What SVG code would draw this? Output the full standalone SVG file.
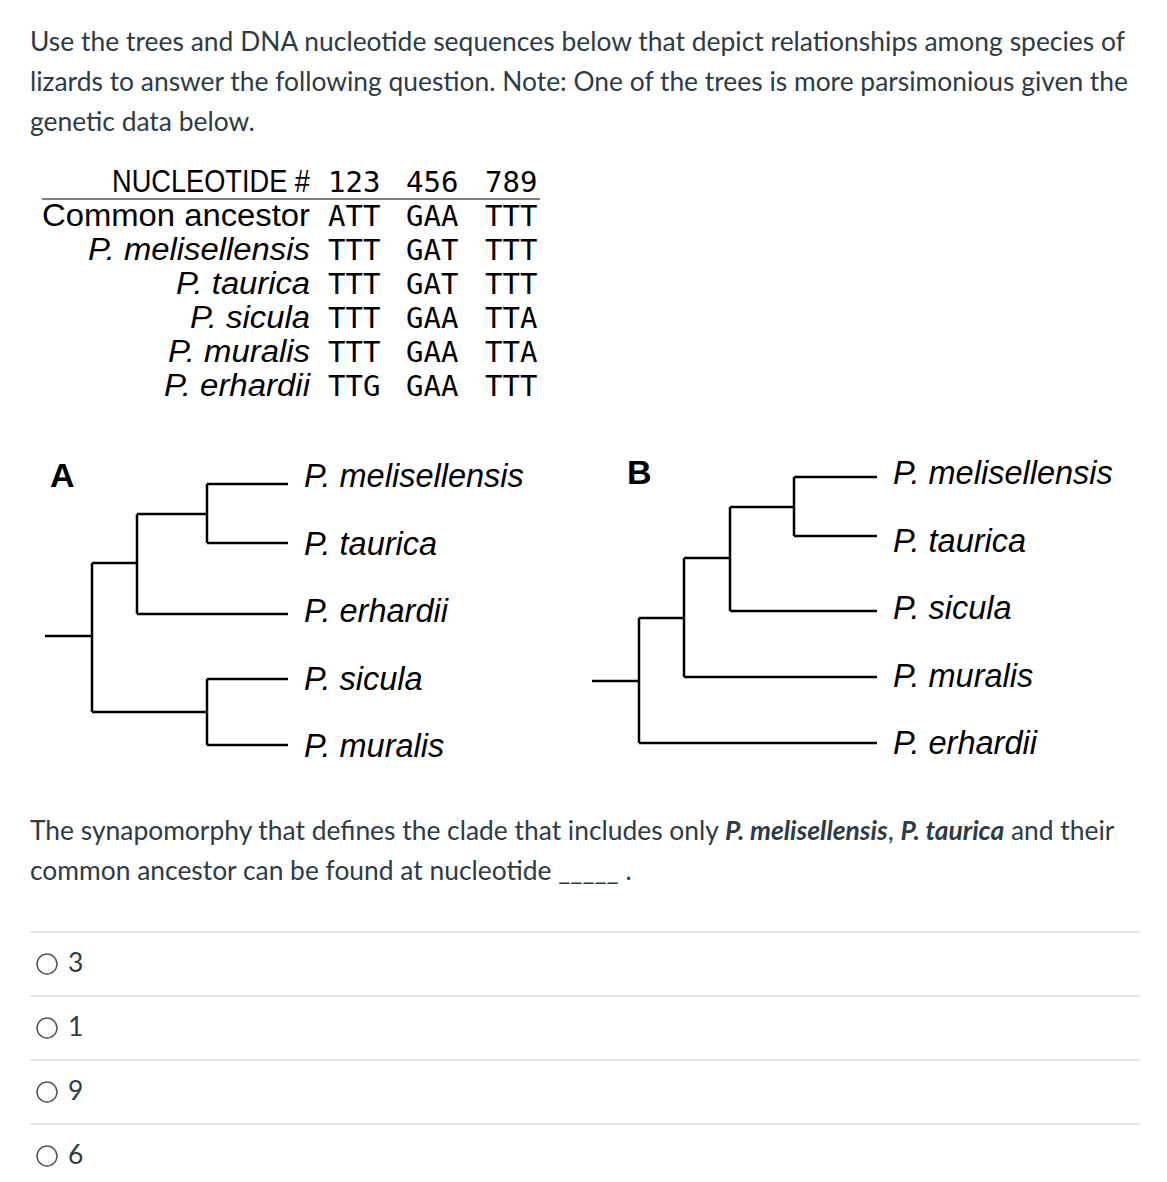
<svg xmlns="http://www.w3.org/2000/svg" width="1167" height="1182" viewBox="0 0 1167 1182">
<style>
.q{font-family:Lato,"Open Sans",sans-serif;font-size:26.4px;fill:#2d3b45}
.ar{font-family:"Liberation Sans",Arial,sans-serif;font-size:31px;fill:#000;text-anchor:end}
.sp{font-family:"Liberation Sans",Arial,sans-serif;font-size:31px;font-style:italic;fill:#000;text-anchor:end}
.lf{font-family:"Liberation Sans",Arial,sans-serif;font-size:32.5px;font-style:italic;fill:#000}
.mono{font-family:"DejaVu Sans Mono","Liberation Mono",monospace;font-size:29px;fill:#000}
.br{stroke:#000;stroke-width:2.5;fill:none}
.sep{stroke:#ddd;stroke-width:1.5}
.rb{fill:#fff;stroke:#555;stroke-width:1.5}
</style>
<rect width="1167" height="1182" fill="#fff"/>
<g id="question">
<text class="q" x="30" y="51" textLength="1095">Use the trees and DNA nucleotide sequences below that depict relationships among species of</text>
<text class="q" x="30" y="91" textLength="1098">lizards to answer the following question. Note: One of the trees is more parsimonious given the</text>
<text class="q" x="30" y="131">genetic data below.</text>
</g>
<g id="table">
<text class="ar" x="310" y="192" font-size="26" textLength="198" lengthAdjust="spacingAndGlyphs">NUCLEOTIDE #</text>
<line x1="42" y1="199" x2="540" y2="199" stroke="#555" stroke-width="1.5"/>
<text class="ar" x="310" y="226" textLength="268" lengthAdjust="spacingAndGlyphs">Common ancestor</text>
<text class="sp" x="310" y="260" textLength="222" lengthAdjust="spacingAndGlyphs">P. melisellensis</text>
<text class="sp" x="310" y="294" textLength="134" lengthAdjust="spacingAndGlyphs">P. taurica</text>
<text class="sp" x="310" y="328" textLength="120" lengthAdjust="spacingAndGlyphs">P. sicula</text>
<text class="sp" x="310" y="362" textLength="142" lengthAdjust="spacingAndGlyphs">P. muralis</text>
<text class="sp" x="310" y="396" textLength="146" lengthAdjust="spacingAndGlyphs">P. erhardii</text>
<g class="mono">
<text x="328" y="192">123</text><text x="406" y="192">456</text><text x="485" y="192">789</text>
<text x="328" y="226">ATT</text><text x="406" y="226">GAA</text><text x="485" y="226">TTT</text>
<text x="328" y="260">TTT</text><text x="406" y="260">GAT</text><text x="485" y="260">TTT</text>
<text x="328" y="294">TTT</text><text x="406" y="294">GAT</text><text x="485" y="294">TTT</text>
<text x="328" y="328">TTT</text><text x="406" y="328">GAA</text><text x="485" y="328">TTA</text>
<text x="328" y="362">TTT</text><text x="406" y="362">GAA</text><text x="485" y="362">TTA</text>
<text x="328" y="396">TTG</text><text x="406" y="396">GAA</text><text x="485" y="396">TTT</text>
</g>
</g>
<g id="treeA">
<text x="50" y="487" font-family="Liberation Sans,Arial,sans-serif" font-weight="bold" font-size="34">A</text>
<path class="br" d="M45 636H92M92 563V712M92 563H137M137 514V614M137 514H207M207 484V543M207 484H288M207 543H288M137 614H288M92 712H207M207 679V745M207 679H288M207 745H288"/>
<text class="lf" x="304" y="487">P. melisellensis</text>
<text class="lf" x="304" y="555">P. taurica</text>
<text class="lf" x="304" y="622">P. erhardii</text>
<text class="lf" x="304" y="690">P. sicula</text>
<text class="lf" x="304" y="757">P. muralis</text>
</g>
<g id="treeB">
<text x="627" y="484" font-family="Liberation Sans,Arial,sans-serif" font-weight="bold" font-size="34">B</text>
<path class="br" d="M592 681H639M639 618V743M639 618H684M684 558V677M684 558H730M730 507V611M730 507H794M794 477V536M794 477H877M794 536H877M730 611H877M684 677H877M639 743H877"/>
<text class="lf" x="893" y="484">P. melisellensis</text>
<text class="lf" x="893" y="552">P. taurica</text>
<text class="lf" x="893" y="619">P. sicula</text>
<text class="lf" x="893" y="687">P. muralis</text>
<text class="lf" x="893" y="754">P. erhardii</text>
</g>
<g id="prompt">
<text class="q" x="30" y="840">The synapomorphy that defines the clade that includes only <tspan font-weight="bold" font-style="italic">P. melisellensis</tspan>, <tspan font-weight="bold" font-style="italic">P. taurica</tspan> and their</text>
<text class="q" x="30" y="880">common ancestor can be found at nucleotide _____ .</text>
</g>
<g id="options">
<line class="sep" x1="30" y1="932" x2="1140" y2="932"/>
<line class="sep" x1="30" y1="996" x2="1140" y2="996"/>
<line class="sep" x1="30" y1="1060" x2="1140" y2="1060"/>
<line class="sep" x1="30" y1="1124" x2="1140" y2="1124"/>
<circle class="rb" cx="47" cy="964" r="10"/><text class="q" x="68" y="972">3</text>
<circle class="rb" cx="47" cy="1028" r="10"/><text class="q" x="68" y="1036">1</text>
<circle class="rb" cx="47" cy="1092" r="10"/><text class="q" x="68" y="1100">9</text>
<circle class="rb" cx="47" cy="1156" r="10"/><text class="q" x="68" y="1164">6</text>
</g>
</svg>
